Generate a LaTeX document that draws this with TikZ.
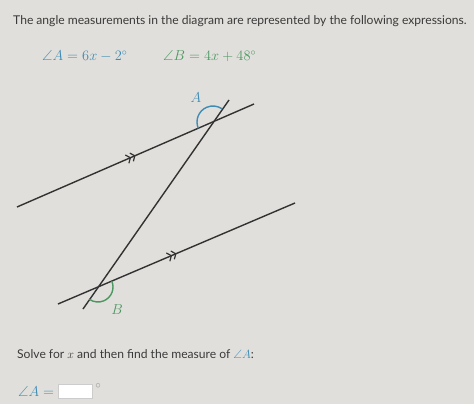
\documentclass[tikz,border=0pt]{standalone}
\usepackage{amsmath}
\usepackage{amssymb}
\usepackage{fontspec}
\setmainfont{Lato}
\usetikzlibrary{positioning, arrows.meta, decorations.markings}

\definecolor{bgpaper}{RGB}{225,223,219}
\definecolor{inkgray}{RGB}{58,58,58}
\definecolor{lineink}{RGB}{50,50,50}
\definecolor{angA}{RGB}{62,140,180}
\definecolor{angB}{RGB}{74,152,96}

\tikzset{
	txt/.style={anchor=west, inner sep=0pt, text=inkgray, font=\fontsize{12.1}{14}\selectfont},
	mathtxt/.style={anchor=west, inner sep=0pt, font=\fontsize{14.5}{16}\selectfont},
	geo/.style={lineink, line width=1.4pt},
	parallel/.style={postaction={decorate, decoration={markings,
		mark=at position 0.5 with {\arrow[line width=1.2pt]{Straight Barb[length=3.5pt,width=9pt]Straight Barb[length=3.5pt,width=9pt]}}}}},
	answerbox/.style={draw=gray!40, fill=white, minimum width=34pt, minimum height=14pt, inner sep=0pt}
}

\begin{document}
\begin{tikzpicture}[x=1pt, y=1pt]
		% Paper
		\fill[bgpaper] (0, 0) rectangle (474, -404);
		\useasboundingbox (0, 0) rectangle (474, -404);
		
		% Question text
		\node[txt] (title) at (13, -21) {The angle measurements in the diagram are represented by the following expressions.};
		\node[mathtxt, text=angA] (exprA) at (42, -56) {$\angle A = 6x - 2^\circ$};
		\node[mathtxt, text=angB] (exprB) at (163, -56) {$\angle B = 4x + 48^\circ$};
		
		% Line ends and crossing points
		\coordinate (U1) at (17, -207);
		\coordinate (U2) at (254, -104);
		\coordinate (L1) at (58, -304);
		\coordinate (L2) at (295, -203);
		\coordinate (T1) at (83, -309);
		\coordinate (T2) at (229, -100);
		\coordinate (P) at (213, -122);
		\coordinate (Q) at (98, -287);
		
		% Parallel lines and transversal
		\draw[geo, parallel] (U1) -- (U2);
		\draw[geo, parallel] (L1) -- (L2);
		\draw[geo] (T1) -- (T2);
		
		% Angle arcs
		\draw[angA, line width=1.4pt] ([shift={(203.5:16)}]P) arc[start angle=203.5, end angle=55.1, radius=16pt];
		\draw[angB, line width=1.4pt] ([shift={(23.1:15)}]Q) arc[start angle=23.1, end angle=-124.9, radius=15pt];
		\node[text=angA, font=\fontsize{14}{16}\selectfont] (labA) at (196, -98) {$A$};
		\node[text=angB, font=\fontsize{14}{16}\selectfont] (labB) at (117, -310) {$B$};
		
		% Answer line
		\node[txt] (solve) at (17, -354) {Solve for $x$ and then find the measure of \textcolor{angA}{$\angle A$}:};
		\node[mathtxt, text=angA] (ansA) at (18, -391) {$\angle A =$};
		\node[answerbox] (ansbox) at (75, -391) {};
		\node[gray!80, font=\fontsize{15}{16}\selectfont, right=3pt of ansbox.north east, anchor=north west, inner sep=0pt] (deg) {$^\circ$};
\end{tikzpicture}
\end{document}
